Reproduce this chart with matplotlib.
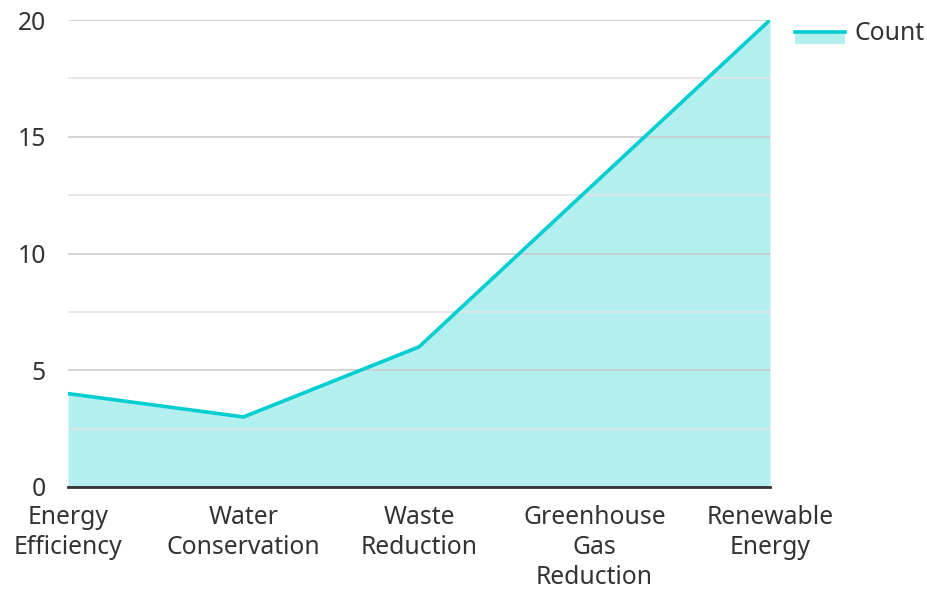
import matplotlib.pyplot as plt
from matplotlib.patches import Rectangle
from matplotlib.lines import Line2D

categories = ['Energy\nEfficiency', 'Water\nConservation', 'Waste\nReduction',
              'Greenhouse\nGas\nReduction', 'Renewable\nEnergy']
counts = [4, 3, 6, 13, 20]
y_ticks = [0, 5, 10, 15, 20]
y_minor = [2.5, 7.5, 12.5, 17.5]

plt.rcParams['font.family'] = ['Noto Sans', 'DejaVu Sans']
line_c = '#00CED1'
fill_c = '#B2EFEE'
text_c = '#333333'
fs = 17.8

fig = plt.figure(figsize=(9.28, 5.89), dpi=100)
ax = fig.add_axes([68 / 928, 1 - 487 / 589, (770 - 68) / 928, (487 - 20) / 589])

x = list(range(len(categories)))
ax.fill_between(x, counts, 0, color=fill_c, lw=0, zorder=1)
ax.plot(x, counts, color=line_c, lw=2.6, zorder=3, solid_joinstyle='miter')

ax.set_xlim(0, len(categories) - 1)
ax.set_ylim(0, 20)
ax.set_yticks(y_ticks)
ax.set_yticks(y_minor, minor=True)
ax.set_xticks(x)
ax.set_xticklabels(categories, fontsize=fs, color=text_c, linespacing=1.27)
ax.tick_params(axis='y', labelsize=fs, labelcolor=text_c, length=0, pad=16)
ax.tick_params(axis='y', which='minor', length=0)
ax.tick_params(axis='x', length=0, pad=13)

ax.grid(axis='y', which='major', color='#cccccc', lw=1.2, zorder=2)
ax.grid(axis='y', which='minor', color='#e3e3e3', lw=1.2, zorder=2)
ax.set_axisbelow(False)

for s in ['top', 'right', 'left']:
    ax.spines[s].set_visible(False)
ax.spines['bottom'].set_color(text_c)
ax.spines['bottom'].set_linewidth(2)
ax.spines['bottom'].set_zorder(4)

# legend drawn by hand: fill box with line along its top
fig.add_artist(Rectangle((795 / 928, 1 - 44 / 589), 50 / 928, 12 / 589,
                         transform=fig.transFigure, color=fill_c, lw=0))
fig.add_artist(Line2D([795 / 928, 845 / 928], [1 - 32 / 589, 1 - 32 / 589],
                      transform=fig.transFigure, color=line_c, lw=2.6))
fig.text(855 / 928, 1 - 34 / 589, 'Count', fontsize=fs, color=text_c, va='center')

fig.savefig('out.png', dpi=100)
